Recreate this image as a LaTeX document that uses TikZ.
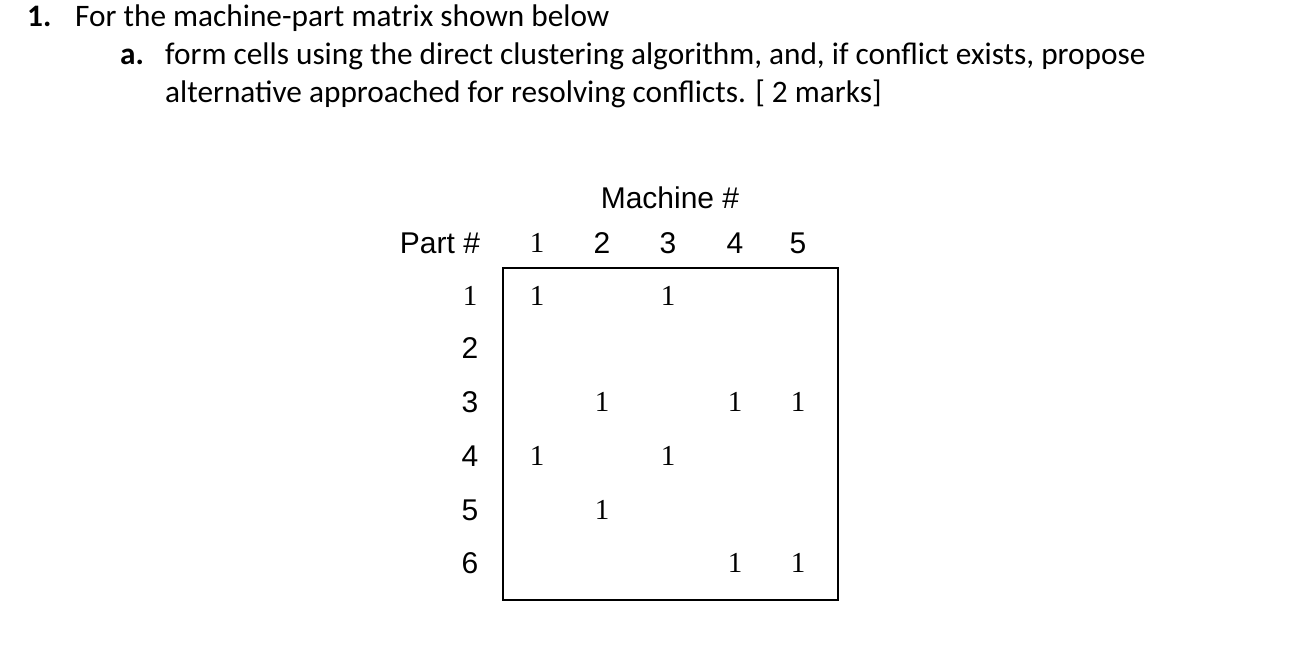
\documentclass[tikz,border=0pt]{standalone}
\usepackage{fontspec}
\setmainfont{Carlito}
\newfontfamily\arial{Liberation Sans}
\newfontfamily\serifnum{Liberation Serif}
\begin{document}
\begin{tikzpicture}[x=1pt,y=-1pt,
  q/.style={anchor=base west,inner sep=0pt,font=\fontsize{31.3}{34}\selectfont},
  hd/.style={inner sep=0pt,font=\arial\fontsize{30}{32}\selectfont},
  one/.style={inner sep=0pt,font=\serifnum\fontsize{29}{31}\selectfont}]
\useasboundingbox (0,0) rectangle (1298,646);
\node[q] (n1) at (27,26) {\textbf{1.}};
\node[q] (t1) at (75,26) {For the machine-part matrix shown below};
\node[q] (n2) at (120,64) {\textbf{a.}};
\node[q] (t2) at (165,64) {form cells using the direct clustering algorithm, and, if conflict exists, propose};
\node[q] (t3) at (165,102) {alternative approached for resolving conflicts. [ 2 marks]};
\draw[line width=2pt] (503,268) rectangle (838,600);
\node[hd] (mh) at (670,198) {Machine \#};
\node[hd] (ph) at (440,243) {Part \#};
\node[one] (c1) at (537,243) {1};
\node[hd] (c2) at (602,243) {2};
\node[hd] (c3) at (668,243) {3};
\node[hd] (c4) at (735,243) {4};
\node[hd] (c5) at (798,243) {5};
\node[one] (r1) at (470,296) {1};
\node[hd] (r2) at (470,348) {2};
\node[hd] (r3) at (470,402) {3};
\node[hd] (r4) at (470,456) {4};
\node[hd] (r5) at (470,510) {5};
\node[hd] (r6) at (470,563) {6};
\node[one] (e11) at (537,296) {1};
\node[one] (e13) at (668,296) {1};
\node[one] (e32) at (602,402) {1};
\node[one] (e34) at (735,402) {1};
\node[one] (e35) at (798,402) {1};
\node[one] (e41) at (537,456) {1};
\node[one] (e43) at (668,456) {1};
\node[one] (e52) at (602,510) {1};
\node[one] (e64) at (735,563) {1};
\node[one] (e65) at (798,563) {1};
\end{tikzpicture}
\end{document}
